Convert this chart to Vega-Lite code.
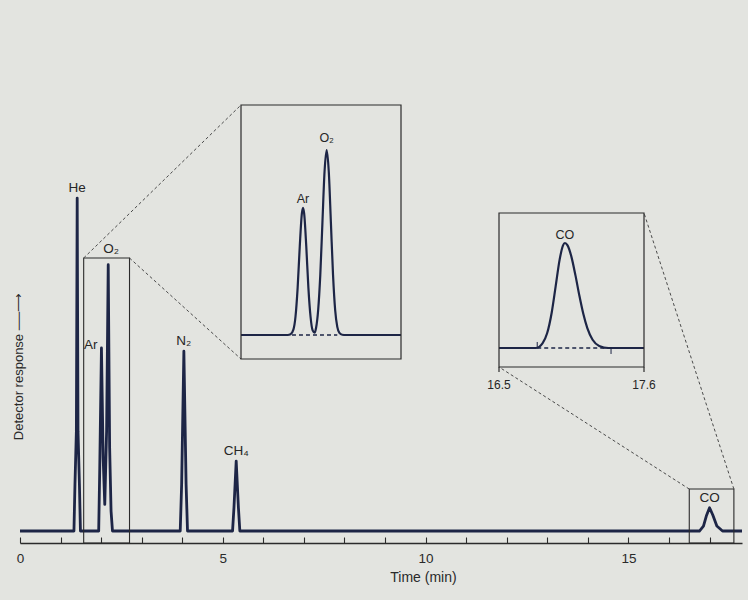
{
"$schema": "https://vega.github.io/schema/vega-lite/v6.json",
"width": 722,
"height": 533,
"autosize": {"type": "none"},
"padding": {"left": 20, "top": 10, "right": 6, "bottom": 57},
"background": "#e3e4e0",
"config": {"view": {"stroke": null}, "font": "Liberation Sans", "axis": {"grid": false}, "text": {"font": "Liberation Sans", "fontSize": 12.5, "color": "#262626"}},
"datasets": {
 "trace": [
  {"t":0,"v":0},{"t":1.33,"v":0},{"t":1.355,"v":14},{"t":1.39,"v":30},{"t":1.41,"v":100},{"t":1.43,"v":30},{"t":1.465,"v":14},{"t":1.49,"v":0},
  {"t":1.94,"v":0},{"t":1.965,"v":18},{"t":2.008,"v":55},{"t":2.05,"v":22},{"t":2.09,"v":8},{"t":2.135,"v":30},{"t":2.175,"v":80},{"t":2.21,"v":25},{"t":2.245,"v":6},{"t":2.28,"v":0},
  {"t":3.95,"v":0},{"t":3.985,"v":14},{"t":4.04,"v":54},{"t":4.095,"v":14},{"t":4.13,"v":0},
  {"t":5.24,"v":0},{"t":5.275,"v":7},{"t":5.33,"v":21},{"t":5.385,"v":7},{"t":5.42,"v":0},
  {"t":16.75,"v":0},{"t":16.85,"v":1.5},{"t":16.92,"v":4.5},{"t":17.0,"v":7},{"t":17.08,"v":4.8},{"t":17.18,"v":1.5},{"t":17.32,"v":0},{"t":17.8,"v":0}
 ],
 "peaks": [
  {"gas":"He","t":1.41,"h":100},{"gas":"Ar","t":2.008,"h":55},{"gas":"O₂","t":2.175,"h":80},
  {"gas":"N₂","t":4.04,"h":54},{"gas":"CH₄","t":5.33,"h":21},{"gas":"CO","t":17.0,"h":7}
 ],
 "regions": [{"t0":1.57,"t1":2.70,"top":82},{"t0":16.5,"t1":17.6,"top":12.6}],
 "insetA": [
  {"t":1.57,"v":0},{"t":1.90,"v":0},{"t":1.92,"v":0.3},{"t":1.94,"v":2.3},{"t":1.955,"v":8.0},{"t":1.97,"v":20.4},{"t":1.985,"v":38.3},{"t":2.0,"v":52.6},{"t":2.008,"v":55},{"t":2.016,"v":52.6},{"t":2.031,"v":38.3},{"t":2.046,"v":20.4},{"t":2.061,"v":8.0},{"t":2.076,"v":2.0},{"t":2.09,"v":1.0},{"t":2.10,"v":3.0},{"t":2.115,"v":10.8},{"t":2.13,"v":26.0},{"t":2.145,"v":48.5},{"t":2.16,"v":70.6},{"t":2.175,"v":80},{"t":2.19,"v":70.6},{"t":2.205,"v":48.5},{"t":2.22,"v":26.0},{"t":2.235,"v":10.8},{"t":2.25,"v":3.5},{"t":2.265,"v":0.9},{"t":2.285,"v":0.1},{"t":2.31,"v":0},{"t":2.70,"v":0}
 ],
 "insetB": [
  {"t":16.5,"v":0},{"t":16.78,"v":0},{"t":16.83,"v":0.31},{"t":16.865,"v":0.98},{"t":16.9,"v":2.37},{"t":16.93,"v":4.12},{"t":16.96,"v":5.89},{"t":16.985,"v":6.83},{"t":17.0,"v":7},{"t":17.02,"v":6.84},{"t":17.05,"v":6.06},{"t":17.08,"v":4.84},{"t":17.11,"v":3.48},{"t":17.14,"v":2.26},{"t":17.17,"v":1.32},{"t":17.21,"v":0.55},{"t":17.26,"v":0.14},{"t":17.33,"v":0},{"t":17.6,"v":0}
 ],
 "insetBTicks": [{"t":16.5},{"t":17.6}]
},
"resolve": {"scale": {"x": "independent", "y": "independent"}},
"layer": [
 {
  "layer": [
   {
    "data": {"name": "trace"},
    "mark": {"type": "line", "color": "#1d2546", "strokeWidth": 2.8, "strokeJoin": "round"},
    "encoding": {
     "x": {"field": "t", "type": "quantitative", "scale": {"domain": [0, 17.8], "nice": false, "zero": false},
      "axis": {"values": [0,1,2,3,4,5,6,7,8,9,10,11,12,13,14,15,16,17], "tickSize": -6, "tickColor": "#2b2b2b", "tickWidth": 1.1,
       "domainColor": "#2b2b2b", "domainWidth": 1.3, "labelExpr": "datum.value % 5 === 0 ? datum.label : ''",
       "labelFontSize": 13.5, "labelColor": "#2a2a2a", "labelPadding": 14, "labelFlush": false, "labelFont": "Liberation Sans",
       "title": "Time (min)", "titleFont": "Liberation Sans", "titleFontSize": 14, "titleFontWeight": "normal", "titleColor": "#2a2a2a",
       "titleX": 403, "titleY": 34, "titleBaseline": "middle", "titleAlign": "center"}},
     "y": {"field": "v", "type": "quantitative", "scale": {"domain": [-3.6, 156.5], "nice": false, "zero": false},
      "axis": {"title": "Detector response ──⟶", "domain": false, "ticks": false, "labels": false,
       "titleFont": "Liberation Sans", "titleFontSize": 13, "titleFontWeight": "normal", "titleColor": "#2a2a2a",
       "titleX": -2, "titleY": 356, "titleAngle": 270, "titleAlign": "center", "titleBaseline": "middle"}}
    }
   },
   {
    "data": {"name": "regions"},
    "mark": {"type": "rect", "fill": null, "stroke": "#2b2b2b", "strokeWidth": 1.1},
    "encoding": {
     "x": {"field": "t0", "type": "quantitative", "scale": {"domain": [0, 17.8], "nice": false, "zero": false}},
     "x2": {"field": "t1"},
     "y": {"field": "top", "type": "quantitative", "scale": {"domain": [-3.6, 156.5], "nice": false, "zero": false}},
     "y2": {"datum": -3.6}
    }
   },
   {
    "data": {"values": [{}]},
    "mark": {"type": "rule", "stroke": "#4a4a4a", "strokeWidth": 1, "strokeDash": [3, 2.5]},
    "encoding": {
     "x": {"datum": 1.57, "type": "quantitative", "scale": {"domain": [0, 17.8], "nice": false, "zero": false}},
     "x2": {"datum": 5.4485},
     "y": {"datum": 82, "type": "quantitative", "scale": {"domain": [-3.6, 156.5], "nice": false, "zero": false}},
     "y2": {"datum": 127.965}
    }
   },
   {
    "data": {"values": [{}]},
    "mark": {"type": "rule", "stroke": "#4a4a4a", "strokeWidth": 1, "strokeDash": [3, 2.5]},
    "encoding": {
     "x": {"datum": 2.70, "type": "quantitative", "scale": {"domain": [0, 17.8], "nice": false, "zero": false}},
     "x2": {"datum": 5.4485},
     "y": {"datum": 82, "type": "quantitative", "scale": {"domain": [-3.6, 156.5], "nice": false, "zero": false}},
     "y2": {"datum": 51.67}
    }
   },
   {
    "data": {"values": [{}]},
    "mark": {"type": "rule", "stroke": "#4a4a4a", "strokeWidth": 1, "strokeDash": [3, 2.5]},
    "encoding": {
     "x": {"datum": 16.5, "type": "quantitative", "scale": {"domain": [0, 17.8], "nice": false, "zero": false}},
     "x2": {"datum": 11.809},
     "y": {"datum": 12.6, "type": "quantitative", "scale": {"domain": [-3.6, 156.5], "nice": false, "zero": false}},
     "y2": {"datum": 49.266}
    }
   },
   {
    "data": {"values": [{}]},
    "mark": {"type": "rule", "stroke": "#4a4a4a", "strokeWidth": 1, "strokeDash": [3, 2.5]},
    "encoding": {
     "x": {"datum": 17.6, "type": "quantitative", "scale": {"domain": [0, 17.8], "nice": false, "zero": false}},
     "x2": {"datum": 15.384},
     "y": {"datum": 12.6, "type": "quantitative", "scale": {"domain": [-3.6, 156.5], "nice": false, "zero": false}},
     "y2": {"datum": 95.524}
    }
   },
   {
    "data": {"name": "peaks"},
    "transform": [{"filter": {"field": "gas", "oneOf": ["He", "N₂", "CH₄", "CO"]}}],
    "mark": {"type": "text", "baseline": "alphabetic", "align": "center", "dy": -6, "fontSize": 13.5},
    "encoding": {
     "x": {"field": "t", "type": "quantitative", "scale": {"domain": [0, 17.8], "nice": false, "zero": false}},
     "y": {"field": "h", "type": "quantitative", "scale": {"domain": [-3.6, 156.5], "nice": false, "zero": false}},
     "text": {"field": "gas"}
    }
   },
   {
    "data": {"name": "peaks"},
    "transform": [{"filter": {"field": "gas", "equal": "Ar"}}],
    "mark": {"type": "text", "baseline": "alphabetic", "align": "right", "dx": -4, "dy": 1, "fontSize": 13.5},
    "encoding": {
     "x": {"field": "t", "type": "quantitative", "scale": {"domain": [0, 17.8], "nice": false, "zero": false}},
     "y": {"field": "h", "type": "quantitative", "scale": {"domain": [-3.6, 156.5], "nice": false, "zero": false}},
     "text": {"field": "gas"}
    }
   },
   {
    "data": {"name": "peaks"},
    "transform": [{"filter": {"field": "gas", "equal": "O₂"}}],
    "mark": {"type": "text", "baseline": "alphabetic", "align": "center", "dx": 3, "dy": -12, "fontSize": 13.5},
    "encoding": {
     "x": {"field": "t", "type": "quantitative", "scale": {"domain": [0, 17.8], "nice": false, "zero": false}},
     "y": {"field": "h", "type": "quantitative", "scale": {"domain": [-3.6, 156.5], "nice": false, "zero": false}},
     "text": {"field": "gas"}
    }
   }
  ]
 },
 {
  "layer": [
   {
    "data": {"name": "insetA"},
    "mark": {"type": "line", "color": "#1d2546", "strokeWidth": 2.2, "interpolate": "monotone"},
    "encoding": {
     "x": {"field": "t", "type": "quantitative", "scale": {"domain": [0.00919, 5.10832], "nice": false, "zero": false}, "axis": null},
     "y": {"field": "v", "type": "quantitative", "scale": {"domain": [-89.946, 140.541], "nice": false, "zero": false}, "axis": null}
    }
   },
   {
    "data": {"values": [{}]},
    "mark": {"type": "rect", "fill": null, "stroke": "#2b2b2b", "strokeWidth": 1.2},
    "encoding": {
     "x": {"datum": 1.57, "type": "quantitative", "scale": {"domain": [0.00919, 5.10832], "nice": false, "zero": false}, "axis": null},
     "x2": {"datum": 2.70},
     "y": {"datum": -10.378, "type": "quantitative", "scale": {"domain": [-89.946, 140.541], "nice": false, "zero": false}, "axis": null},
     "y2": {"datum": 99.459}
    }
   },
   {
    "data": {"values": [{}]},
    "mark": {"type": "rule", "stroke": "#1d2546", "strokeWidth": 1.4, "strokeDash": [4, 3]},
    "encoding": {
     "x": {"datum": 1.93, "type": "quantitative", "scale": {"domain": [0.00919, 5.10832], "nice": false, "zero": false}, "axis": null},
     "x2": {"datum": 2.25},
     "y": {"datum": 0, "type": "quantitative", "scale": {"domain": [-89.946, 140.541], "nice": false, "zero": false}, "axis": null}
    }
   },
   {
    "data": {"name": "peaks"},
    "transform": [{"filter": {"field": "gas", "equal": "Ar"}}],
    "mark": {"type": "text", "baseline": "alphabetic", "align": "center", "dy": -5},
    "encoding": {
     "x": {"field": "t", "type": "quantitative", "scale": {"domain": [0.00919, 5.10832], "nice": false, "zero": false}, "axis": null},
     "y": {"field": "h", "type": "quantitative", "scale": {"domain": [-89.946, 140.541], "nice": false, "zero": false}, "axis": null},
     "text": {"field": "gas"}
    }
   },
   {
    "data": {"name": "peaks"},
    "transform": [{"filter": {"field": "gas", "equal": "O₂"}}],
    "mark": {"type": "text", "baseline": "alphabetic", "align": "center", "dy": -8},
    "encoding": {
     "x": {"field": "t", "type": "quantitative", "scale": {"domain": [0.00919, 5.10832], "nice": false, "zero": false}, "axis": null},
     "y": {"field": "h", "type": "quantitative", "scale": {"domain": [-89.946, 140.541], "nice": false, "zero": false}, "axis": null},
     "text": {"field": "gas"}
    }
   }
  ]
 },
 {
  "layer": [
   {
    "data": {"name": "insetB"},
    "mark": {"type": "line", "color": "#1d2546", "strokeWidth": 2.2, "interpolate": "monotone"},
    "encoding": {
     "x": {"field": "t", "type": "quantitative", "scale": {"domain": [12.86621, 18.34345], "nice": false, "zero": false}, "axis": null},
     "y": {"field": "v", "type": "quantitative", "scale": {"domain": [-13.0, 22.5333], "nice": false, "zero": false}, "axis": null}
    }
   },
   {
    "data": {"values": [{}]},
    "mark": {"type": "rect", "fill": null, "stroke": "#2b2b2b", "strokeWidth": 1.2},
    "encoding": {
     "x": {"datum": 16.5, "type": "quantitative", "scale": {"domain": [12.86621, 18.34345], "nice": false, "zero": false}, "axis": null},
     "x2": {"datum": 17.6},
     "y": {"datum": -1.2667, "type": "quantitative", "scale": {"domain": [-13.0, 22.5333], "nice": false, "zero": false}, "axis": null},
     "y2": {"datum": 9.0}
    }
   },
   {
    "data": {"values": [{}]},
    "mark": {"type": "rule", "stroke": "#1d2546", "strokeWidth": 1.4, "strokeDash": [4, 3]},
    "encoding": {
     "x": {"datum": 16.79, "type": "quantitative", "scale": {"domain": [12.86621, 18.34345], "nice": false, "zero": false}, "axis": null},
     "x2": {"datum": 17.35},
     "y": {"datum": 0, "type": "quantitative", "scale": {"domain": [-13.0, 22.5333], "nice": false, "zero": false}, "axis": null}
    }
   },
   {
    "data": {"values": [{}]},
    "mark": {"type": "rule", "stroke": "#1d2546", "strokeWidth": 1},
    "encoding": {
     "x": {"datum": 16.79, "type": "quantitative", "scale": {"domain": [12.86621, 18.34345], "nice": false, "zero": false}, "axis": null},
     "y": {"datum": 0, "type": "quantitative", "scale": {"domain": [-13.0, 22.5333], "nice": false, "zero": false}, "axis": null},
     "y2": {"datum": 0.4}
    }
   },
   {
    "data": {"values": [{}]},
    "mark": {"type": "rule", "stroke": "#1d2546", "strokeWidth": 1},
    "encoding": {
     "x": {"datum": 17.35, "type": "quantitative", "scale": {"domain": [12.86621, 18.34345], "nice": false, "zero": false}, "axis": null},
     "y": {"datum": 0, "type": "quantitative", "scale": {"domain": [-13.0, 22.5333], "nice": false, "zero": false}, "axis": null},
     "y2": {"datum": -0.4}
    }
   },
   {
    "data": {"name": "insetBTicks"},
    "mark": {"type": "rule", "stroke": "#2b2b2b", "strokeWidth": 1.2},
    "encoding": {
     "x": {"field": "t", "type": "quantitative", "scale": {"domain": [12.86621, 18.34345], "nice": false, "zero": false}, "axis": null},
     "y": {"datum": -1.2667, "type": "quantitative", "scale": {"domain": [-13.0, 22.5333], "nice": false, "zero": false}, "axis": null},
     "y2": {"datum": -1.6}
    }
   },
   {
    "data": {"name": "insetBTicks"},
    "mark": {"type": "text", "baseline": "middle", "align": "center", "fontSize": 12},
    "encoding": {
     "x": {"field": "t", "type": "quantitative", "scale": {"domain": [12.86621, 18.34345], "nice": false, "zero": false}, "axis": null},
     "y": {"datum": -2.4667, "type": "quantitative", "scale": {"domain": [-13.0, 22.5333], "nice": false, "zero": false}, "axis": null},
     "text": {"field": "t", "type": "quantitative", "format": ".1f"}
    }
   },
   {
    "data": {"name": "peaks"},
    "transform": [{"filter": {"field": "gas", "equal": "CO"}}],
    "mark": {"type": "text", "baseline": "alphabetic", "align": "center", "dy": -4},
    "encoding": {
     "x": {"field": "t", "type": "quantitative", "scale": {"domain": [12.86621, 18.34345], "nice": false, "zero": false}, "axis": null},
     "y": {"field": "h", "type": "quantitative", "scale": {"domain": [-13.0, 22.5333], "nice": false, "zero": false}, "axis": null},
     "text": {"field": "gas"}
    }
   }
  ]
 }
]
}
